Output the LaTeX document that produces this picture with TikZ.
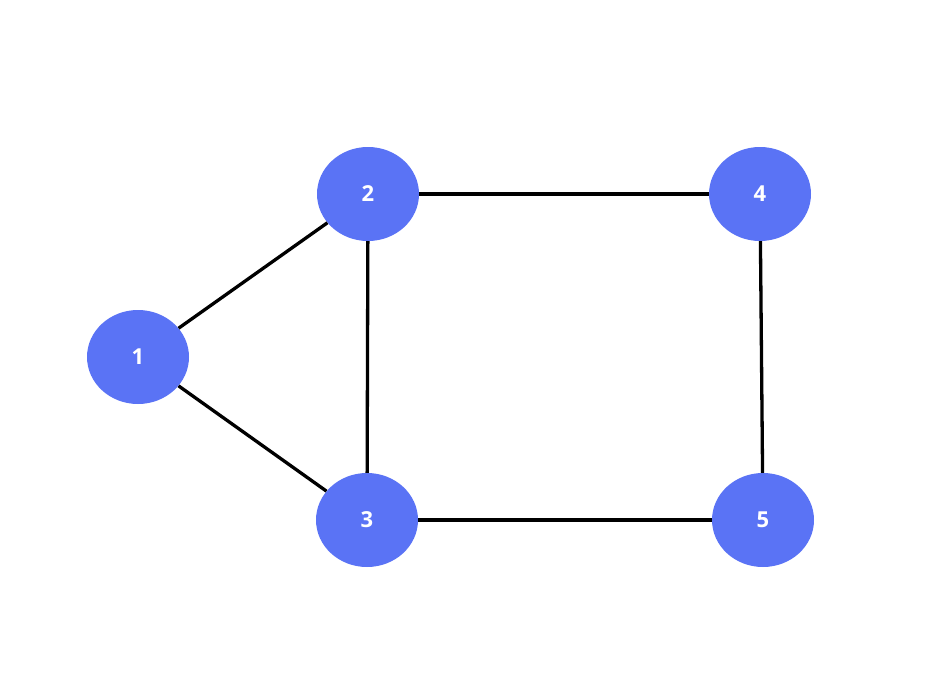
\documentclass[tikz,border=0pt]{standalone}
\usepackage{fontspec}
\setmainfont{Open Sans}
\usetikzlibrary{shapes.geometric}
\definecolor{nodeblue}{HTML}{5A73F5}
\begin{document}
\begin{tikzpicture}[x=1pt,y=-1pt,
  vert/.style={ellipse,fill=nodeblue,minimum width=102pt,minimum height=94pt,inner sep=0pt,text=white,font=\bfseries\fontsize{22}{24}\selectfont},
  edge/.style={line width=3.3pt,black}]
\useasboundingbox (0,0) rectangle (938,680);
\node[vert] (n1) at (138,357) {1};
\node[vert] (n2) at (368,194) {2};
\node[vert] (n3) at (367,520) {3};
\node[vert] (n4) at (760,194) {4};
\node[vert] (n5) at (763,520) {5};
\draw[edge] (n1) -- (n2);
\draw[edge] (n1) -- (n3);
\draw[edge] (n2) -- (n3);
\draw[edge] (n2) -- (n4);
\draw[edge] (n3) -- (n5);
\draw[edge] (n4) -- (n5);
\end{tikzpicture}
\end{document}
